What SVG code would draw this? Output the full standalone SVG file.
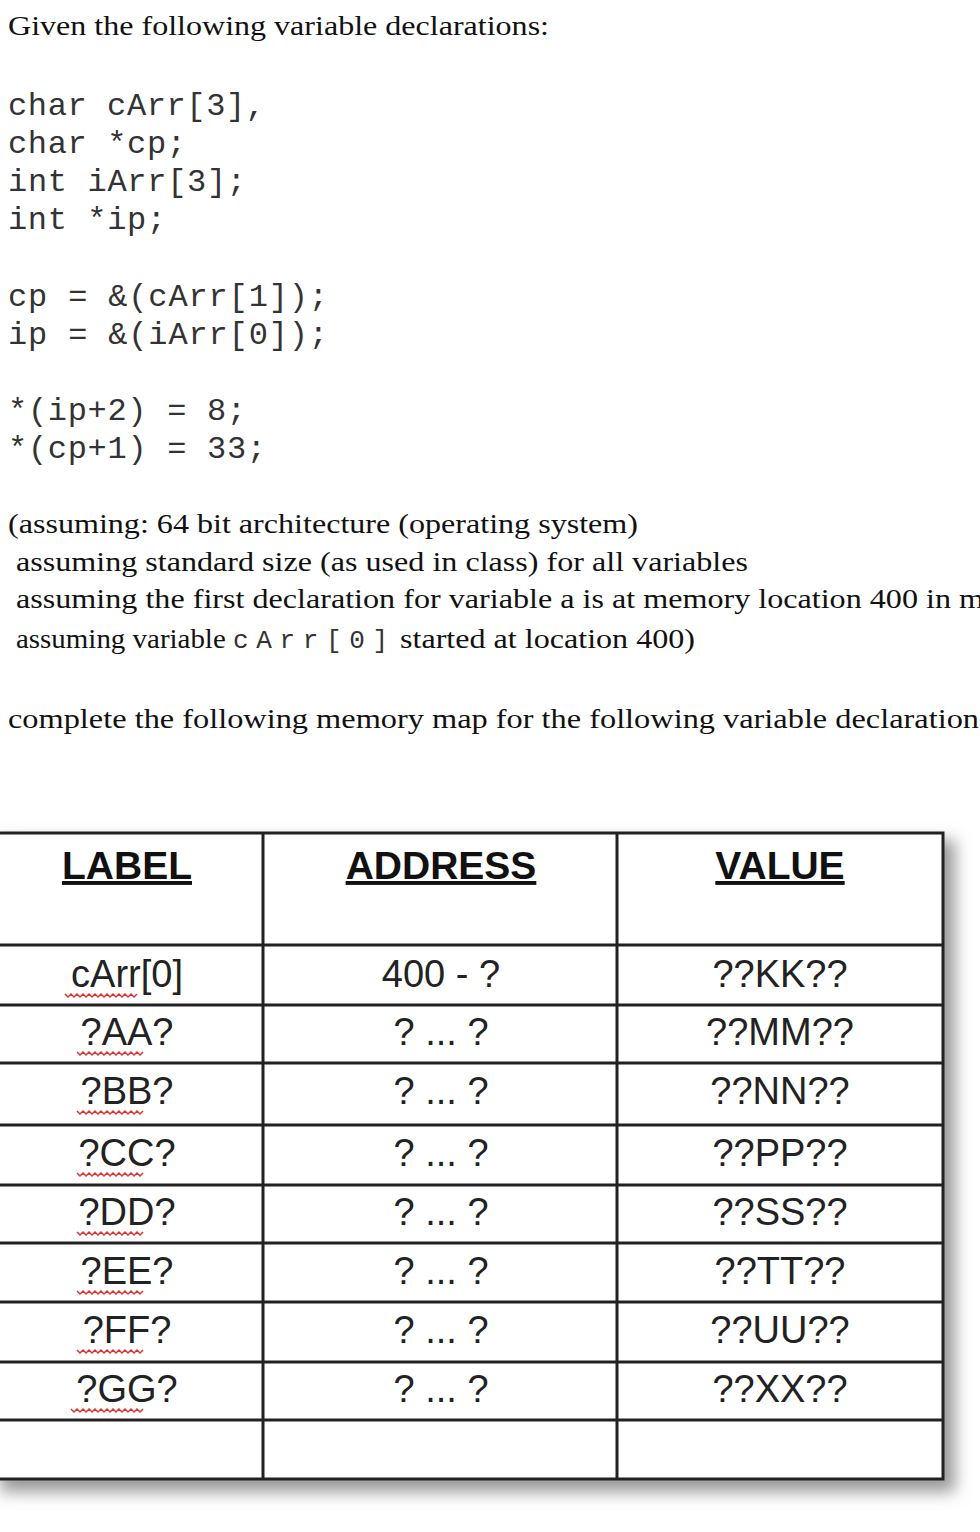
<svg xmlns="http://www.w3.org/2000/svg" width="980" height="1532" viewBox="0 0 980 1532">
<defs>
<style>
.p{font-family:"Liberation Serif",serif;font-size:28px;fill:#111}
.c{font-family:"Liberation Mono",monospace;font-size:32px;fill:#333}
.h{font-family:"Liberation Sans",sans-serif;font-size:39px;font-weight:bold;fill:#111;text-anchor:middle;text-decoration:underline}
.t{font-family:"Liberation Sans",sans-serif;font-size:38px;fill:#222;text-anchor:middle}
.g{stroke:#222;stroke-width:3;fill:none}
.w{stroke:#d33;stroke-width:1.5;fill:none}
</style>
<filter id="sh" x="-5%" y="-5%" width="115%" height="115%"><feGaussianBlur stdDeviation="8"/></filter>
</defs>
<rect width="980" height="1532" fill="#fff"/>
<text class="p" x="8" y="35" textLength="541" lengthAdjust="spacingAndGlyphs">Given the following variable declarations:</text>
<text class="c" x="8" y="115" textLength="257">char cArr[3],</text>
<text class="c" x="8" y="153" textLength="178">char *cp;</text>
<text class="c" x="8" y="191" textLength="238">int iArr[3];</text>
<text class="c" x="8" y="229" textLength="158">int *ip;</text>
<text class="c" x="8" y="306" textLength="320">cp = &amp;(cArr[1]);</text>
<text class="c" x="8" y="344" textLength="320">ip = &amp;(iArr[0]);</text>
<text class="c" x="8" y="420" textLength="238">*(ip+2) = 8;</text>
<text class="c" x="8" y="458" textLength="258">*(cp+1) = 33;</text>
<text class="p" x="8" y="533" textLength="630" lengthAdjust="spacingAndGlyphs">(assuming: 64 bit architecture (operating system)</text>
<text class="p" x="16" y="571" textLength="732" lengthAdjust="spacingAndGlyphs">assuming standard size (as used in class) for all variables</text>
<text class="p" x="16" y="608" textLength="968" lengthAdjust="spacingAndGlyphs">assuming the first declaration for variable a is at memory location 400 in m</text>
<text class="p" x="16" y="648"><tspan textLength="217" lengthAdjust="spacingAndGlyphs">assuming variable </tspan><tspan class="c" style="font-size:26px" x="233" textLength="155">cArr[0]</tspan><tspan x="400" textLength="295" lengthAdjust="spacingAndGlyphs">started at location 400)</tspan></text>
<text class="p" x="8" y="728" textLength="980" lengthAdjust="spacingAndGlyphs">complete the following memory map for the following variable declaration:</text>
<g id="table">
<rect x="0" y="840" width="955" height="652" fill="#999" filter="url(#sh)"/>
<rect x="0" y="833" width="943" height="646" fill="#fff"/>
<path class="g" d="M0 833H943V1479H0M263 833V1479M617 833V1479M0 945H943M0 1005H943M0 1063H943M0 1125H943M0 1185H943M0 1243H943M0 1302H943M0 1362H943M0 1420H943"/>
<text class="h" x="127" y="879">LABEL</text>
<text class="h" x="441" y="879">ADDRESS</text>
<text class="h" x="780" y="879">VALUE</text>
<text class="t" x="127" y="987">cArr[0]</text><text class="t" x="441" y="987">400 - ?</text><text class="t" x="780" y="987">??KK??</text>
<text class="t" x="127" y="1045">?AA?</text><text class="t" x="441" y="1045">? ... ?</text><text class="t" x="780" y="1045">??MM??</text>
<text class="t" x="127" y="1104">?BB?</text><text class="t" x="441" y="1104">? ... ?</text><text class="t" x="780" y="1104">??NN??</text>
<text class="t" x="127" y="1166">?CC?</text><text class="t" x="441" y="1166">? ... ?</text><text class="t" x="780" y="1166">??PP??</text>
<text class="t" x="127" y="1225">?DD?</text><text class="t" x="441" y="1225">? ... ?</text><text class="t" x="780" y="1225">??SS??</text>
<text class="t" x="127" y="1284">?EE?</text><text class="t" x="441" y="1284">? ... ?</text><text class="t" x="780" y="1284">??TT??</text>
<text class="t" x="127" y="1343">?FF?</text><text class="t" x="441" y="1343">? ... ?</text><text class="t" x="780" y="1343">??UU??</text>
<text class="t" x="127" y="1402">?GG?</text><text class="t" x="441" y="1402">? ... ?</text><text class="t" x="780" y="1402">??XX??</text>
<path class="w" d="M65 994l3 3 3-3 3 3 3-3 3 3 3-3 3 3 3-3 3 3 3-3 3 3 3-3 3 3 3-3 3 3 3-3 3 3 3-3 3 3 3-3 3 3 3-3 3 3 3-3"/>
<path class="w" d="M77 1052l3 3 3-3 3 3 3-3 3 3 3-3 3 3 3-3 3 3 3-3 3 3 3-3 3 3 3-3 3 3 3-3 3 3 3-3 3 3 3-3 3 3 3-3"/>
<path class="w" d="M77 1111l3 3 3-3 3 3 3-3 3 3 3-3 3 3 3-3 3 3 3-3 3 3 3-3 3 3 3-3 3 3 3-3 3 3 3-3 3 3 3-3 3 3 3-3"/>
<path class="w" d="M77 1173l3 3 3-3 3 3 3-3 3 3 3-3 3 3 3-3 3 3 3-3 3 3 3-3 3 3 3-3 3 3 3-3 3 3 3-3 3 3 3-3 3 3 3-3"/>
<path class="w" d="M77 1232l3 3 3-3 3 3 3-3 3 3 3-3 3 3 3-3 3 3 3-3 3 3 3-3 3 3 3-3 3 3 3-3 3 3 3-3 3 3 3-3 3 3 3-3"/>
<path class="w" d="M77 1291l3 3 3-3 3 3 3-3 3 3 3-3 3 3 3-3 3 3 3-3 3 3 3-3 3 3 3-3 3 3 3-3 3 3 3-3 3 3 3-3 3 3 3-3"/>
<path class="w" d="M77 1350l3 3 3-3 3 3 3-3 3 3 3-3 3 3 3-3 3 3 3-3 3 3 3-3 3 3 3-3 3 3 3-3 3 3 3-3 3 3 3-3 3 3 3-3"/>
<path class="w" d="M71 1409l3 3 3-3 3 3 3-3 3 3 3-3 3 3 3-3 3 3 3-3 3 3 3-3 3 3 3-3 3 3 3-3 3 3 3-3 3 3 3-3 3 3 3-3 3 3 3-3"/>
</g>
</svg>
